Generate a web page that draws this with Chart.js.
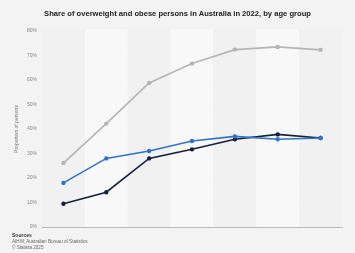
<!DOCTYPE html>
<html>
<head>
<meta charset="utf-8">
<script src="https://cdn.jsdelivr.net/npm/chart.js@4"></script>
<style>
html,body{margin:0;padding:0;background:#f3f3f3;}
#wrap{position:relative;width:355px;height:253px;font-family:"Liberation Sans",Arial,sans-serif;}
#title{position:absolute;top:9px;left:0;width:355px;text-align:center;font-size:7.6px;font-weight:bold;color:#222;}
#src{position:absolute;left:12px;top:233px;font-size:4.6px;color:#666;line-height:5.8px;}
#src b{color:#333;font-size:5px;}
canvas{position:absolute;left:0;top:0;}
</style>
</head>
<body>
<div id="wrap">
<canvas id="c" width="355" height="253"></canvas>
<div id="title">Share of overweight and obese persons in Australia in 2022, by age group</div>
<div id="src"><b>Sources</b><br>AIHW; Australian Bureau of Statistics<br>© Statista 2025</div>
</div>
<script>
// DATA
const ageGroups=["18–24","25–34","35–44","45–54","55–64","65–74","75+"];
const overweightObese=[26.1,42.2,58.8,66.7,72.4,73.5,72.3];
const overweight=[18.0,28.0,31.0,35.1,37.0,35.8,36.3];
const obese=[9.5,14.2,28.0,31.7,35.8,37.8,36.3];
const yTicks=[0,10,20,30,40,50,60,70,80];

// alternating column bands
const bands={
id:"bands",
beforeDatasetsDraw(chart){
const {ctx,chartArea,scales}=chart;
const x=scales.x;
const w=x.width/ageGroups.length;
ctx.save();
ageGroups.forEach((g,i)=>{
const cx=x.getPixelForValue(i);
ctx.fillStyle=i%2? "#f8f8f8":"#f1f1f1";
ctx.fillRect(cx-w/2,chartArea.top-2,w,chartArea.bottom-chartArea.top+2);
});
ctx.restore();
}
};

function ds(label,data,color){
return {label,data,borderColor:color,backgroundColor:color,borderWidth:1.6,
pointRadius:1.4,pointHoverRadius:1.4,tension:0};
}

new Chart(document.getElementById("c"),{
type:"line",
data:{labels:ageGroups,datasets:[
ds("Overweight or obese",overweightObese,"#b5b5b5"),
ds("Overweight",overweight,"#2f72c9"),
ds("Obese",obese,"#14213a")
]},
options:{
responsive:false,animation:false,
layout:{padding:{top:31,bottom:18,left:12,right:13}},
plugins:{legend:{display:false},tooltip:{enabled:false}},
scales:{
x:{offset:true,grid:{display:false},ticks:{display:false},
border:{display:true,color:"#b8b8b8",width:1}},
y:{min:0,max:80,
afterBuildTicks(s){s.ticks=yTicks.map(v=>({value:v}));},
ticks:{callback:v=>v+"%",color:"#888",font:{size:5,family:"Liberation Sans"},padding:5},
grid:{color:"#dcdcdc",lineWidth:0.8,drawTicks:false},
border:{display:false,dash:[3,2]},
title:{display:true,text:"Proportion of persons",color:"#777",font:{size:5,family:"Liberation Sans"},padding:2}
}
}
},
plugins:[bands]
});
</script>
</body>
</html>
